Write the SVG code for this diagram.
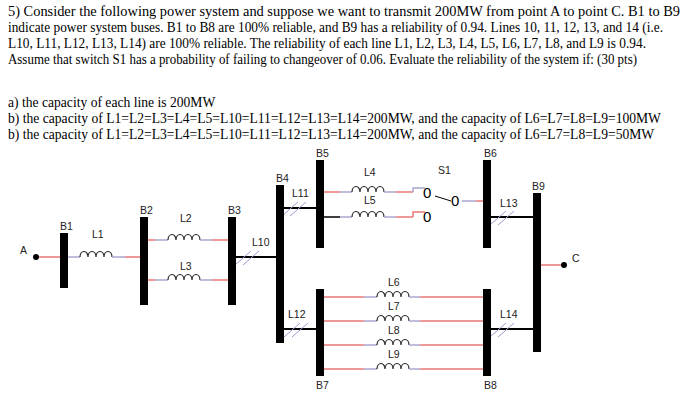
<svg xmlns="http://www.w3.org/2000/svg" width="697" height="408" viewBox="0 0 697 408">
<defs>
<style>
.t{font-family:"Liberation Serif",serif;font-size:13.6px;fill:#000}
.l{font-family:"Liberation Sans",sans-serif;font-size:10.5px;fill:#222}
.bus{fill:#000}
.p{stroke:#e87878;stroke-width:1.5;fill:none}
.v{stroke:#a8a8d0;stroke-width:1.5;fill:none}
.k{stroke:#000;stroke-width:2;fill:none}
.coil{stroke:#222;stroke-width:1.2;fill:none}
.h{stroke:#9a9ad0;stroke-width:1;fill:none}
.sw{font-family:"Liberation Sans",sans-serif;font-size:15px;fill:#000}
</style>
<path id="coil" class="coil" d="M0,0 a4,5.5 0 0 1 8,0 a4,5.5 0 0 1 8,0 a4,5.5 0 0 1 8,0 a4,5.5 0 0 1 8,0"/>
<g id="hash"><line class="h" x1="-6" y1="8" x2="10" y2="-6"/><line class="h" x1="2" y1="8" x2="18" y2="-6"/></g>
</defs>
<rect width="697" height="408" fill="#fff"/>
<g id="text">
<text class="t" x="8" y="16" textLength="672" lengthAdjust="spacingAndGlyphs">5) Consider the following power system and suppose we want to transmit 200MW from point A to point C. B1 to B9</text>
<text class="t" x="8" y="32" textLength="655" lengthAdjust="spacingAndGlyphs">indicate power system buses. B1 to B8 are 100% reliable, and B9 has a reliability of 0.94. Lines 10, 11, 12, 13, and 14 (i.e.</text>
<text class="t" x="8" y="48" textLength="638" lengthAdjust="spacingAndGlyphs">L10, L11, L12, L13, L14) are 100% reliable. The reliability of each line L1, L2, L3, L4, L5, L6, L7, L8, and L9 is 0.94.</text>
<text class="t" x="8" y="64" textLength="629" lengthAdjust="spacingAndGlyphs">Assume that switch S1 has a probability of failing to changeover of 0.06. Evaluate the reliability of the system if: (30 pts)</text>
<text class="t" x="8" y="107">a) the capacity of each line is 200MW</text>
<text class="t" x="8" y="123">b) the capacity of L1=L2=L3=L4=L5=L10=L11=L12=L13=L14=200MW, and the capacity of L6=L7=L8=L9=100MW</text>
<text class="t" x="8" y="139">b) the capacity of L1=L2=L3=L4=L5=L10=L11=L12=L13=L14=200MW, and the capacity of L6=L7=L8=L9=50MW</text>
</g>
<g id="connectors">
<line class="p" x1="36" y1="257" x2="60" y2="257"/>
<line class="v" x1="67" y1="257" x2="80" y2="257"/>
<use href="#coil" x="80" y="257"/>
<line class="v" x1="112" y1="257" x2="125" y2="257"/>
<line class="p" x1="125" y1="257" x2="140" y2="257"/>
<line class="p" x1="147" y1="240" x2="155" y2="240"/><line class="v" x1="155" y1="240" x2="168" y2="240"/>
<use href="#coil" x="168" y="240"/>
<line class="v" x1="200" y1="240" x2="212" y2="240"/><line class="p" x1="212" y1="240" x2="228" y2="240"/>
<line class="p" x1="147" y1="280" x2="155" y2="280"/><line class="v" x1="155" y1="280" x2="168" y2="280"/>
<use href="#coil" x="168" y="280"/>
<line class="v" x1="200" y1="280" x2="212" y2="280"/><line class="p" x1="212" y1="280" x2="228" y2="280"/>
<line class="k" x1="235" y1="257" x2="276" y2="257"/><use href="#hash" x="241" y="257"/>
<line class="k" x1="283" y1="208" x2="316" y2="208"/><use href="#hash" x="288" y="208"/>
<line class="p" x1="323" y1="192" x2="340" y2="192"/><line class="v" x1="340" y1="192" x2="352" y2="192"/>
<use href="#coil" x="352" y="192"/>
<line class="v" x1="384" y1="192" x2="396" y2="192"/><line class="p" x1="396" y1="192" x2="413" y2="192"/>
<polyline class="v" points="413,192 413,188 425,188"/>
<line class="k" x1="323" y1="217" x2="340" y2="217" style="stroke-width:1.5"/><line class="v" x1="340" y1="217" x2="352" y2="217"/>
<use href="#coil" x="352" y="217"/>
<line class="v" x1="384" y1="217" x2="396" y2="217"/><line class="p" x1="396" y1="217" x2="413" y2="217"/>
<polyline class="p" points="413,217 413,212 425,212"/>
<line x1="435" y1="196" x2="451" y2="201" stroke="#000" stroke-width="1"/>
<line class="v" x1="462" y1="201" x2="476" y2="201"/><line class="p" x1="476" y1="201" x2="483" y2="201"/>
<line class="k" x1="490" y1="217" x2="533" y2="217"/><use href="#hash" x="496" y="217"/>
<line class="p" x1="540" y1="265" x2="564" y2="265"/>
<line class="k" x1="283" y1="329" x2="316" y2="329"/><use href="#hash" x="290" y="329"/>
<line class="k" x1="490" y1="329" x2="533" y2="329"/><use href="#hash" x="496" y="329"/>
<g>
<line class="p" x1="323" y1="297" x2="364" y2="297"/><line class="v" x1="364" y1="297" x2="377" y2="297"/><use href="#coil" x="377" y="297"/><line class="v" x1="409" y1="297" x2="420" y2="297"/><line class="p" x1="420" y1="297" x2="483" y2="297"/>
<line class="p" x1="323" y1="321" x2="364" y2="321"/><line class="v" x1="364" y1="321" x2="377" y2="321"/><use href="#coil" x="377" y="321"/><line class="v" x1="409" y1="321" x2="420" y2="321"/><line class="p" x1="420" y1="321" x2="483" y2="321"/>
<line class="p" x1="323" y1="345" x2="364" y2="345"/><line class="v" x1="364" y1="345" x2="377" y2="345"/><use href="#coil" x="377" y="345"/><line class="v" x1="409" y1="345" x2="420" y2="345"/><line class="p" x1="420" y1="345" x2="483" y2="345"/>
<line class="p" x1="323" y1="369" x2="364" y2="369"/><line class="v" x1="364" y1="369" x2="377" y2="369"/><use href="#coil" x="377" y="369"/><line class="v" x1="409" y1="369" x2="420" y2="369"/><line class="p" x1="420" y1="369" x2="483" y2="369"/>
</g>
</g>
<g id="A"><circle cx="36" cy="257" r="3" fill="#000"/><text class="l" x="20" y="254">A</text></g>
<g id="C"><circle cx="564" cy="265" r="3" fill="#000"/><text class="l" x="572" y="262">C</text></g>
<g id="B1"><rect class="bus" x="60" y="233" width="8" height="55"/><text class="l" x="60" y="230">B1</text></g>
<g id="B2"><rect class="bus" x="140" y="217" width="8" height="88"/><text class="l" x="140" y="214">B2</text></g>
<g id="B3"><rect class="bus" x="228" y="217" width="8" height="88"/><text class="l" x="228" y="214">B3</text></g>
<g id="B4"><rect class="bus" x="276" y="185" width="8" height="158"/><text class="l" x="276" y="182">B4</text></g>
<g id="B5"><rect class="bus" x="316" y="160" width="8" height="88"/><text class="l" x="316" y="157">B5</text></g>
<g id="B6"><rect class="bus" x="483" y="160" width="8" height="88"/><text class="l" x="484" y="157">B6</text></g>
<g id="B9"><rect class="bus" x="533" y="193" width="8" height="159"/><text class="l" x="532" y="190">B9</text></g>
<g id="B7"><rect class="bus" x="316" y="289" width="8" height="87"/><text class="l" x="316" y="389">B7</text></g>
<g id="B8"><rect class="bus" x="483" y="289" width="8" height="87"/><text class="l" x="484" y="389">B8</text></g>
<g id="S1"><text class="sw" x="423" y="198">0</text><text class="sw" x="451" y="206">0</text><text class="sw" x="423" y="222">0</text><text class="l" x="438" y="174">S1</text></g>
<g id="labels">
<text class="l" x="92" y="238">L1</text>
<text class="l" x="180" y="222">L2</text>
<text class="l" x="180" y="270">L3</text>
<text class="l" x="252" y="246">L10</text>
<text class="l" x="292" y="197">L11</text>
<text class="l" x="364" y="176">L4</text>
<text class="l" x="364" y="204">L5</text>
<text class="l" x="500" y="207">L13</text>
<text class="l" x="288" y="318">L12</text>
<text class="l" x="500" y="318">L14</text>
<text class="l" x="388" y="286">L6</text>
<text class="l" x="388" y="310">L7</text>
<text class="l" x="388" y="334">L8</text>
<text class="l" x="388" y="358">L9</text>
</g>
</svg>
